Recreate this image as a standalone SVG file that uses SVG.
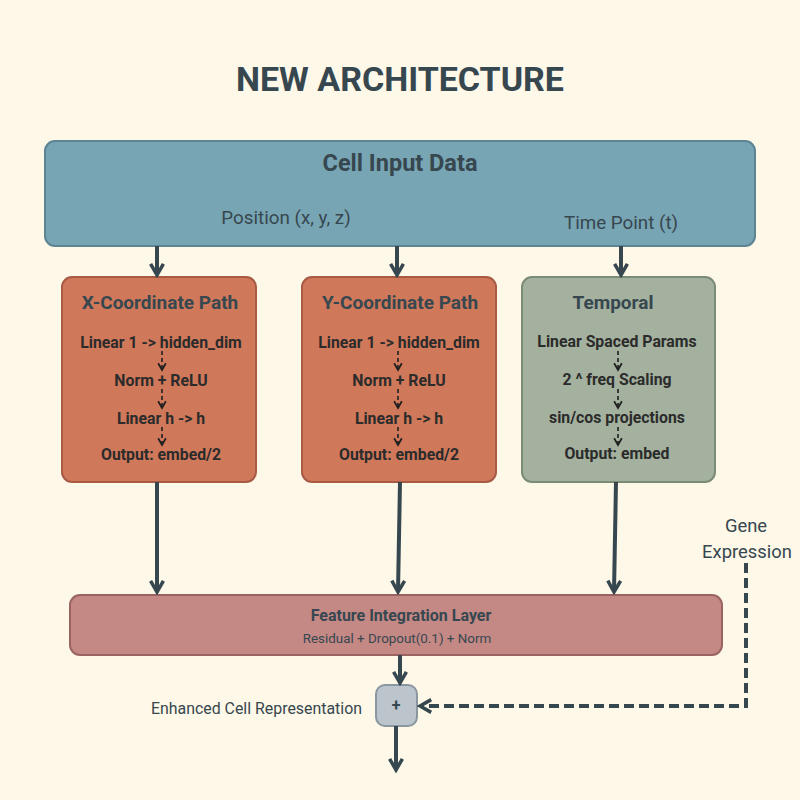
<svg xmlns="http://www.w3.org/2000/svg" width="800" height="800" viewBox="0 0 800 800">
<defs>
<style>
text{font-family:Roboto,"Liberation Sans",sans-serif;fill:#37474f;text-anchor:middle}
.title{font-size:34px;font-weight:bold}
.h{font-size:23.5px;font-weight:bold}
.sub{font-size:18.8px}
.bh{font-size:19px;font-weight:bold}
.step{font-size:15.8px;font-weight:bold;fill:#2b2b2b}
.conn{stroke:#37474f;stroke-width:4;fill:none}
.dash{stroke:#1f1f1f;stroke-width:1.6;fill:none;stroke-dasharray:4,3}
</style>
<marker id="ah" viewBox="0 0 10 10" refX="8" refY="5" markerWidth="4" markerHeight="4" orient="auto"><path d="M1,1 L8,5 L1,9" fill="none" stroke="#37474f" stroke-width="2.2"/></marker>
<marker id="sa" viewBox="0 0 10 10" refX="8" refY="5" markerWidth="6" markerHeight="6" orient="auto"><path d="M1,1 L8,5 L1,9" fill="none" stroke="#1f1f1f" stroke-width="1.8"/></marker>
</defs>
<rect width="800" height="800" fill="#fdf8e8"/>
<text class="title" x="400" y="91">NEW ARCHITECTURE</text>
<g id="input">
<rect x="45" y="141" width="710" height="105" rx="10" fill="#77a5b4" stroke="#5c8492" stroke-width="2"/>
<text class="h" x="400" y="171">Cell Input Data</text>
<text class="sub" x="286" y="224">Position (x, y, z)</text>
<text class="sub" x="621" y="229">Time Point (t)</text>
</g>
<g id="xpath">
<rect x="62" y="277" width="194" height="205" rx="10" fill="#d0785a" stroke="#a85a45" stroke-width="2"/>
<text class="bh" x="160" y="309">X-Coordinate Path</text>
<text class="step" x="161" y="348">Linear 1 -&gt; hidden_dim</text>
<text class="step" x="161" y="386">Norm + ReLU</text>
<text class="step" x="161" y="424">Linear h -&gt; h</text>
<text class="step" x="161" y="460">Output: embed/2</text>
<path class="dash" d="M162,351 V370" marker-end="url(#sa)"/>
<path class="dash" d="M162,389 V408" marker-end="url(#sa)"/>
<path class="dash" d="M162,427 V445" marker-end="url(#sa)"/>
</g>
<g id="ypath">
<rect x="302" y="277" width="194" height="205" rx="10" fill="#d0785a" stroke="#a85a45" stroke-width="2"/>
<text class="bh" x="400" y="309">Y-Coordinate Path</text>
<text class="step" x="399" y="348">Linear 1 -&gt; hidden_dim</text>
<text class="step" x="399" y="386">Norm + ReLU</text>
<text class="step" x="399" y="424">Linear h -&gt; h</text>
<text class="step" x="399" y="460">Output: embed/2</text>
<path class="dash" d="M398,351 V370" marker-end="url(#sa)"/>
<path class="dash" d="M398,389 V408" marker-end="url(#sa)"/>
<path class="dash" d="M398,427 V445" marker-end="url(#sa)"/>
</g>
<g id="temporal">
<rect x="522" y="277" width="193" height="205" rx="10" fill="#a3b19e" stroke="#7b8b76" stroke-width="2"/>
<text class="bh" x="613" y="309">Temporal</text>
<text class="step" x="617" y="347">Linear Spaced Params</text>
<text class="step" x="617" y="385">2 ^ freq Scaling</text>
<text class="step" x="617" y="423">sin/cos projections</text>
<text class="step" x="617" y="459">Output: embed</text>
<path class="dash" d="M618,351 V370" marker-end="url(#sa)"/>
<path class="dash" d="M618,389 V408" marker-end="url(#sa)"/>
<path class="dash" d="M618,427 V445" marker-end="url(#sa)"/>
</g>
<g id="integration">
<rect x="70" y="595" width="652" height="60" rx="10" fill="#c48885" stroke="#9b6463" stroke-width="2"/>
<text x="401" y="621" style="font-size:16px;font-weight:bold">Feature Integration Layer</text>
<text x="397" y="643" style="font-size:13.4px">Residual + Dropout(0.1) + Norm</text>
</g>
<g id="plus">
<rect x="376" y="685" width="41" height="41" rx="9" fill="#bcc4cc" stroke="#8a96a0" stroke-width="2"/>
<text x="396" y="711" style="font-size:16px;font-weight:bold">+</text>
</g>
<g id="labels">
<text x="362" y="714" style="font-size:15.9px;text-anchor:end">Enhanced Cell Representation</text>
<text x="746" y="532" style="font-size:18.4px">Gene</text>
<text x="747" y="558" style="font-size:18.4px">Expression</text>
</g>
<g id="connectors">
<path class="conn" d="M157,246 V275" marker-end="url(#ah)"/>
<path class="conn" d="M397,246 V275" marker-end="url(#ah)"/>
<path class="conn" d="M621,246 V275" marker-end="url(#ah)"/>
<path class="conn" d="M157,482 V592" marker-end="url(#ah)"/>
<path class="conn" d="M400,482 L398,592" marker-end="url(#ah)"/>
<path class="conn" d="M616,482 L614,592" marker-end="url(#ah)"/>
<path class="conn" d="M400,655 V683" marker-end="url(#ah)"/>
<path class="conn" d="M396,726 V770" marker-end="url(#ah)"/>
<path class="conn" d="M746,563 V706 H420" stroke-dasharray="10,5" marker-end="url(#ah)"/>
</g>
</svg>
